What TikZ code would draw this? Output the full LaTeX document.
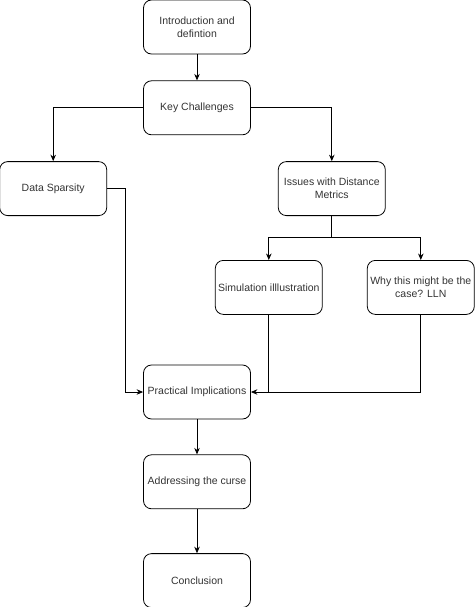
\documentclass[tikz,border=0pt]{standalone}
\usepackage{fontspec}
\setmainfont{Liberation Sans}
\usetikzlibrary{arrows.meta, positioning}

\begin{document}
\begin{tikzpicture}[
    x=1pt, y=-1pt,
    node distance=26pt,
    box/.style={rectangle, draw, rounded corners=8pt, minimum width=107pt, minimum height=54pt, inner xsep=1pt, align=center, font=\fontsize{10.5}{13}\selectfont, line width=0.8pt, text=black!80},
    arrow/.style={-{Stealth[length=6.5pt, width=5.5pt]}, line width=0.8pt}
]
\useasboundingbox (0,0) rectangle (474,607);
\node[box] (intro) at (197,27) {Introduction and\\defintion};
\node[box, below=of intro] (key) {Key Challenges};
\node[box, below left=26pt and 36pt of key] (sparse) {Data Sparsity};
\node[box, below right=26pt and 27pt of key] (dist) {Issues with Distance\\Metrics};
\node[box, below=44pt of dist, xshift=-63pt] (sim) {Simulation illlustration};
\node[box, below=44pt of dist, xshift=89pt] (why) {Why this might be the\\case? LLN};
\node[box] (prac) at (197,392) {Practical Implications};
\node[box, below=35pt of prac] (curse) {Addressing the curse};
\node[box, below=44pt of curse] (concl) {Conclusion};
\draw[arrow] (intro) -- (key);
\draw[arrow] (key.west) -| (sparse.north);
\draw[arrow] (key.east) -| (dist.north);
\draw[arrow] (sparse.east) -- ++(18,0) |- (prac.west);
\draw[arrow] (dist.south) -- ++(0,21) -| (sim.north);
\draw[arrow] (dist.south) -- ++(0,21) -| (why.north);
\draw[line width=0.8pt] (sim.south) -- (sim.south |- prac.east);
\draw[arrow] (why.south) |- (prac.east);
\draw[arrow] (prac) -- (curse);
\draw[arrow] (curse) -- (concl);
\end{tikzpicture}
\end{document}
